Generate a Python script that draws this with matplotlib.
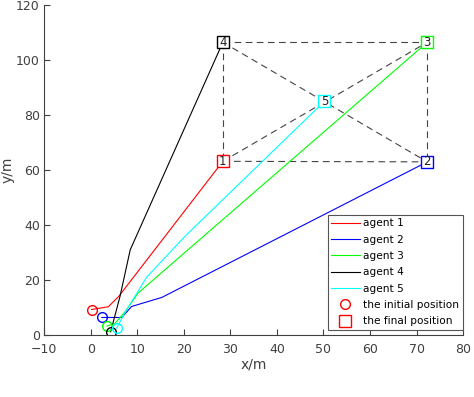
import matplotlib.pyplot as plt

# trajectories (x, y in metres)
agent_x = [
    [0.2, 3.8, 6.0, 28.4],
    [2.4, 6.7, 8.8, 15.3, 72.3],
    [3.5, 5.2, 7.4, 10.2, 72.3],
    [4.3, 6.3, 8.5, 28.4],
    [5.6, 7.3, 9.3, 12.0, 20.3, 50.2],
]
agent_y = [
    [9.3, 10.3, 14.0, 63.2],
    [6.4, 6.4, 10.4, 13.7, 63.0],
    [3.3, 4.2, 8.5, 15.3, 106.5],
    [1.2, 14.0, 31.0, 106.5],
    [2.5, 8.0, 13.5, 21.0, 36.0, 85.0],
]
agent_names = ["agent 1", "agent 2", "agent 3", "agent 4", "agent 5"]
agent_colors = ["#FF0000", "#0000FF", "#00FF00", "#000000", "#00FFFF"]

# formation edges (indices of agents, 0-based)
edges = [(3, 2), (0, 1), (3, 0), (2, 1), (3, 1), (0, 2)]

fig = plt.figure(figsize=(4.74, 3.97), dpi=100)
ax = fig.add_axes([0.093, 0.156, 0.884, 0.831])
plt.rcParams["font.family"] = "DejaVu Sans"

for i in range(5):
    ax.plot(agent_x[i], agent_y[i], color=agent_colors[i], lw=0.8, label=agent_names[i])

for a, b in edges:
    ax.plot([agent_x[a][-1], agent_x[b][-1]], [agent_y[a][-1], agent_y[b][-1]],
            color="#444444", ls=(0, (6, 4)), lw=0.8, zorder=1)

for i in range(5):
    ax.plot(agent_x[i][0], agent_y[i][0], "o", mfc="none", mec=agent_colors[i],
            ms=7, mew=1.0, label="the initial position" if i == 0 else None)
for i in range(5):
    ax.plot(agent_x[i][-1], agent_y[i][-1], "s", mfc="white", mec=agent_colors[i],
            ms=9, mew=1.0, label="the final position" if i == 0 else None, zorder=4)
    ax.text(agent_x[i][-1], agent_y[i][-1], str(i + 1), ha="center", va="center",
            fontsize=8.5, color="#222222", zorder=5)

ax.set_xlim(-10, 80)
ax.set_ylim(0, 120)
ax.set_xticks(range(-10, 81, 10))
ax.set_yticks(range(0, 121, 20))
ax.spines["top"].set_visible(False)
ax.spines["right"].set_visible(False)
for s in ["left", "bottom"]:
    ax.spines[s].set_color("#404040")
    ax.spines[s].set_linewidth(0.8)
ax.tick_params(direction="in", colors="#404040", labelsize=9, length=4, width=0.8)
ax.tick_params(axis="x", pad=6)
ax.tick_params(axis="y", pad=3)
ax.set_xlabel("x/m", fontsize=10, color="#404040", labelpad=1)
ax.set_ylabel("y/m", fontsize=10, color="#404040")
ax.yaxis.set_label_coords(-0.07, 0.5)

leg = ax.legend(loc="lower right", bbox_to_anchor=(1.0, 0.015), fontsize=7.6,
                frameon=True, fancybox=False, edgecolor="#555555", handlelength=2.7,
                borderaxespad=0.0, labelspacing=0.6, handletextpad=0.35,
                borderpad=0.35, framealpha=1)
leg.get_frame().set_linewidth(0.8)

fig.savefig("out.png", dpi=100)
